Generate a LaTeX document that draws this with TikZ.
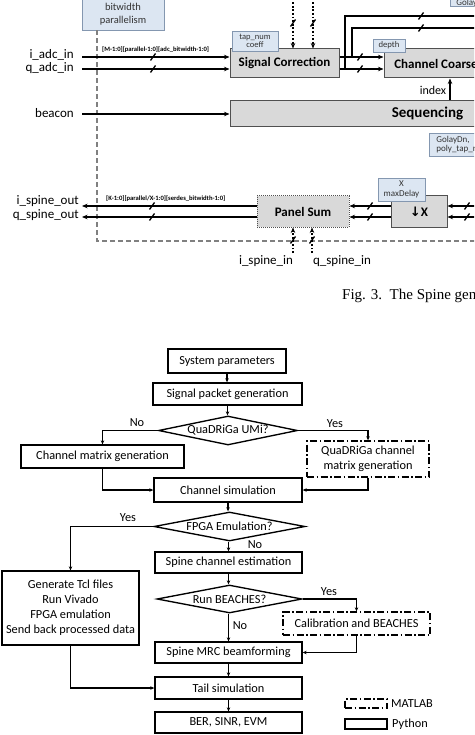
\documentclass[tikz,border=0pt]{standalone}
\usepackage{fontspec}
\setmainfont{Carlito}
\newfontfamily\timesf{Liberation Serif}
\newfontfamily\dvs{DejaVu Sans}
\usetikzlibrary{arrows.meta,shapes.geometric,calc}
\definecolor{cfgfill}{HTML}{DCE6F2}
\definecolor{cfgdraw}{HTML}{8497B0}
\definecolor{blkfill}{HTML}{D9D9D9}
\definecolor{blkdraw}{HTML}{505050}
\definecolor{bnd}{HTML}{808080}
\begin{document}
\begin{tikzpicture}[x=1pt,y=-1pt,
  cfg/.style={draw=cfgdraw, fill=cfgfill, line width=0.8pt, text=black!80, inner sep=0pt, align=center},
  blk/.style={draw=blkdraw, fill=blkfill, line width=1pt, inner sep=0pt, font=\bfseries\fontsize{13}{15}\selectfont},
  sig/.style={font=\fontsize{13}{15}\selectfont, inner sep=0pt},
  arr/.style={line width=1.5pt, -{Stealth[length=5.5pt,width=4.5pt]}},
  bus/.style={line width=1.5pt},
  dotarr/.style={line width=1.8pt, dash pattern=on 1.8pt off 1.8pt, -{Stealth[length=5.5pt,width=4.5pt]}},
  buslbl/.style={font=\bfseries\fontsize{6.6}{7.5}\selectfont, inner sep=0pt},
  bndline/.style={draw=bnd, line width=1.3pt, dash pattern=on 5pt off 3pt},
  fb/.style={draw, line width=1.35pt, fill=white, inner sep=0pt, font=\fontsize{12.3}{15}\selectfont, align=center},
  mb/.style={fb, dash pattern=on 7pt off 2.5pt on 1.5pt off 2.5pt},
  dm/.style={draw, diamond, aspect=5, line width=1.35pt, inner sep=0pt, fill=white, font=\fontsize{12.3}{15}\selectfont},
  fa/.style={line width=1.2pt, -{Stealth[length=4pt,width=3.5pt]}},
  fl/.style={font=\fontsize{12.3}{15}\selectfont, inner sep=0pt},
  bm/.pic={\draw[line width=1.3pt] (-2.5,3.5) -- (2.5,-3.5);}
]
\useasboundingbox (0,0) rectangle (474,735);
\clip (0,0) rectangle (474,735);

% ---------- top block diagram ----------
\node[cfg, minimum width=82, minimum height=32, font=\fontsize{10.5}{13}\selectfont] (cfgA) at (123,14) {bitwidth\\parallelism};
\coordinate (bx) at (97,241);
\coordinate (bR) at (480,241);
\draw[bndline] (cfgA.south -| bx) -- (bx) -- (bR);

\node[blk, minimum width=109, minimum height=29] (sc) at (284.5,63.5) {Signal Correction};
\node[cfg, minimum width=46, minimum height=20, font=\fontsize{8.5}{8.5}\selectfont] (tap) at (255,41) {tap\_num\\coeff};
\node[blk, minimum width=104, minimum height=29] (cc) at (436,63.5) {Channel Coarse};
\node[cfg, minimum width=32, minimum height=13, font=\fontsize{8.7}{10}\selectfont] (dep) at (389,45.5) {depth};
\node[blk, minimum width=395, minimum height=26, font=\bfseries\fontsize{15}{17}\selectfont] (seq) at (427.5,114) {Sequencing};
\node[cfg, anchor=south west, text height=20pt, text depth=0pt, inner ysep=1.5pt, inner xsep=6pt, font=\fontsize{9}{10}\selectfont] (gol) at (450,7) {GolayDn};
\node[cfg, anchor=west, align=left, text width=60pt, inner xsep=7pt, minimum height=23, font=\fontsize{9}{9.5}\selectfont] (gp) at (429,144.5) {GolayDn,\\poly\_tap\_num};

\node[blk, densely dotted, minimum width=92, minimum height=31] (ps) at (303,211.5) {Panel Sum};
\node[blk, minimum width=56, minimum height=31] (dx) at (419,211.5) {{\dvs\bfseries ↓}X};
\node[cfg, minimum width=47, minimum height=23, font=\fontsize{9}{10}\selectfont] (xmd) at (401.5,189.5) {X\\maxDelay};

% inputs
\coordinate (ia) at (82,57);
\coordinate (qa) at (82,69);
\coordinate (bc) at (82,114);
\node[sig, anchor=east] (liadc) at (74,55) {i\_adc\_in};
\node[sig, anchor=east] (lqadc) at (74,68) {q\_adc\_in};
\node[sig, anchor=east] (lbeacon) at (74,113) {beacon};
\draw[arr] (ia) -- (ia -| sc.west);
\draw[arr] (qa) -- (qa -| sc.west);
\draw[arr] (bc) -- (bc -| seq.west);
\pic at (153,57) {bm};
\pic at (153,69) {bm};
\node[buslbl, anchor=south west] (lbl1) at (102,52.5) {[M-1:0][parallel-1:0][adc\_bitwidth-1:0]};

% signal correction -> channel coarse
\draw[arr] (ia -| sc.east) -- (ia -| cc.west);
\draw[arr] (qa -| sc.east) -- (qa -| cc.west);
\pic at (360,57) {bm};
\pic at (360,69) {bm};
\coordinate (br1) at (352,28);
\coordinate (br2) at (345,16);
\coordinate (br1e) at (480,28);
\coordinate (br2e) at (480,16);
\draw[bus] (ia -| br1) -- (br1) -- (br1e);
\draw[bus] (qa -| br2) -- (br2) -- (br2e);
\pic at (421,16) {bm};
\pic at (421,28) {bm};

% dotted inputs to signal correction
\coordinate (dsa) at (293,-5);
\coordinate (dsb) at (313,-5);
\draw[dotarr] (dsa) -- (dsa |- sc.north);
\draw[dotarr] (dsb) -- (dsb |- sc.north);
\pic at (293,23) {bm};
\pic at (313,23) {bm};

% index
\coordinate (ix) at (450,0);
\draw[arr] (ix |- seq.north) -- (ix |- cc.south);
\node[sig, font=\fontsize{12}{14}\selectfont] (lidx) at (433,90) {index};

% outputs
\coordinate (so1) at (82,206);
\coordinate (so2) at (82,217);
\coordinate (re1) at (480,206);
\coordinate (re2) at (480,217);
\draw[arr] (so1 -| ps.west) -- (so1);
\draw[arr] (so2 -| ps.west) -- (so2);
\draw[arr] (so1 -| dx.west) -- (so1 -| ps.east);
\draw[arr] (so2 -| dx.west) -- (so2 -| ps.east);
\draw[arr] (re1) -- (re1 -| dx.east);
\draw[arr] (re2) -- (re2 -| dx.east);
\pic at (152,206) {bm};
\pic at (152,217) {bm};
\pic at (370,206) {bm};
\pic at (370,217) {bm};
\pic at (467,206) {bm};
\pic at (467,217) {bm};
\node[buslbl, anchor=south west] (lbl2) at (106,202) {[K-1:0][parallel/X-1:0][serdes\_bitwidth-1:0]};
\node[sig, anchor=east] (liso) at (79,201) {i\_spine\_out};
\node[sig, anchor=east] (lqso) at (79,215) {q\_spine\_out};

% spine inputs
\node[sig] (lisi) at (266,261) {i\_spine\_in};
\node[sig] (lqsi) at (342,261) {q\_spine\_in};
\coordinate (pi1) at (293,253);
\coordinate (pi2) at (312,253);
\draw[dotarr] (pi1) -- (pi1 |- ps.south);
\draw[dotarr] (pi2) -- (pi2 |- ps.south);
\pic at (293,240) {bm};
\pic at (312,240) {bm};

\node[anchor=west, font=\timesf\fontsize{15}{17}\selectfont, inner sep=0pt] (cap) at (342,296) {Fig. 3.\ \ The Spine generator};

% ---------- flowchart ----------
\node[fb, minimum width=118, minimum height=24] (sys) at (227,361) {System parameters};
\node[fb, minimum width=149, minimum height=22] (spg) at (227.5,394) {Signal packet generation};
\node[dm, minimum width=139, minimum height=29] (q1) at (228,430.5) {QuaDRiGa UMi?};
\node[fb, minimum width=163, minimum height=23] (cmg) at (102.5,456.5) {Channel matrix generation};
\node[mb, minimum width=122, minimum height=36] (qcm) at (368,459) {QuaDRiGa channel\\matrix generation};
\node[fb, minimum width=148, minimum height=24] (csim) at (228,490) {Channel simulation};
\node[dm, minimum width=151, minimum height=29] (q2) at (229.5,526.5) {FPGA Emulation?};
\node[fb, minimum width=137, minimum height=74] (lb) at (70.5,608) {Generate Tcl files\\Run Vivado\\FPGA emulation\\Send back processed data};
\node[fb, minimum width=147, minimum height=21] (sce) at (228.5,562.5) {Spine channel estimation};
\node[dm, minimum width=145, minimum height=28] (q3) at (229.5,599) {Run BEACHES?};
\node[mb, minimum width=147, minimum height=23] (cal) at (356.5,623.5) {Calibration and BEACHES};
\node[fb, minimum width=147, minimum height=21] (mrc) at (228.5,652.5) {Spine MRC beamforming};
\node[fb, minimum width=147, minimum height=22] (tail) at (228.5,688) {Tail simulation};
\node[fb, minimum width=147, minimum height=21] (ber) at (228.5,722.5) {BER, SINR, EVM};

\draw[fa] (sys.south) -- (sys.south |- spg.north);
\draw[fa] (spg.south) -- (spg.south |- q1.north);
\draw[fa] (q1.west) -| (cmg.north);
\draw[fa] (q1.east) -| (qcm.north);
\draw[fa] (cmg.south) |- (csim.west);
\draw[fa] (qcm.south) |- (csim.east);
\draw[fa] (csim.south) -- (csim.south |- q2.north);
\draw[fa] (q2.west) -| (lb.north);
\draw[fa] (sce.north |- q2.south) -- (sce.north);
\draw[fa] (sce.south) -- (sce.south |- q3.north);
\draw[fa] (q3.east) -| (cal.north);
\draw[fa] (mrc.north |- q3.south) -- (mrc.north);
\draw[fa] (cal.south) |- (mrc.east);
\draw[fa] (mrc.south) -- (mrc.south |- tail.north);
\draw[fa] (lb.south) |- (tail.west);
\draw[fa] (tail.south) -- (tail.south |- ber.north);

\node[fl] (n1) at (137,423) {No};
\node[fl] (y1) at (335,424) {Yes};
\node[fl] (y2) at (128,518) {Yes};
\node[fl] (n2) at (255,545) {No};
\node[fl] (y3) at (329,592) {Yes};
\node[fl] (n3) at (240,626) {No};

% legend
\node[mb, line width=1.1pt, minimum width=42, minimum height=9] (lgm) at (366,703.5) {};
\node[fl, anchor=west] (lgmt) at (391,704) {MATLAB};
\node[fb, line width=1.1pt, minimum width=42, minimum height=10] (lgp) at (366,724) {};
\node[fl, anchor=west] (lgpt) at (392,724) {Python};
\end{tikzpicture}
\end{document}
